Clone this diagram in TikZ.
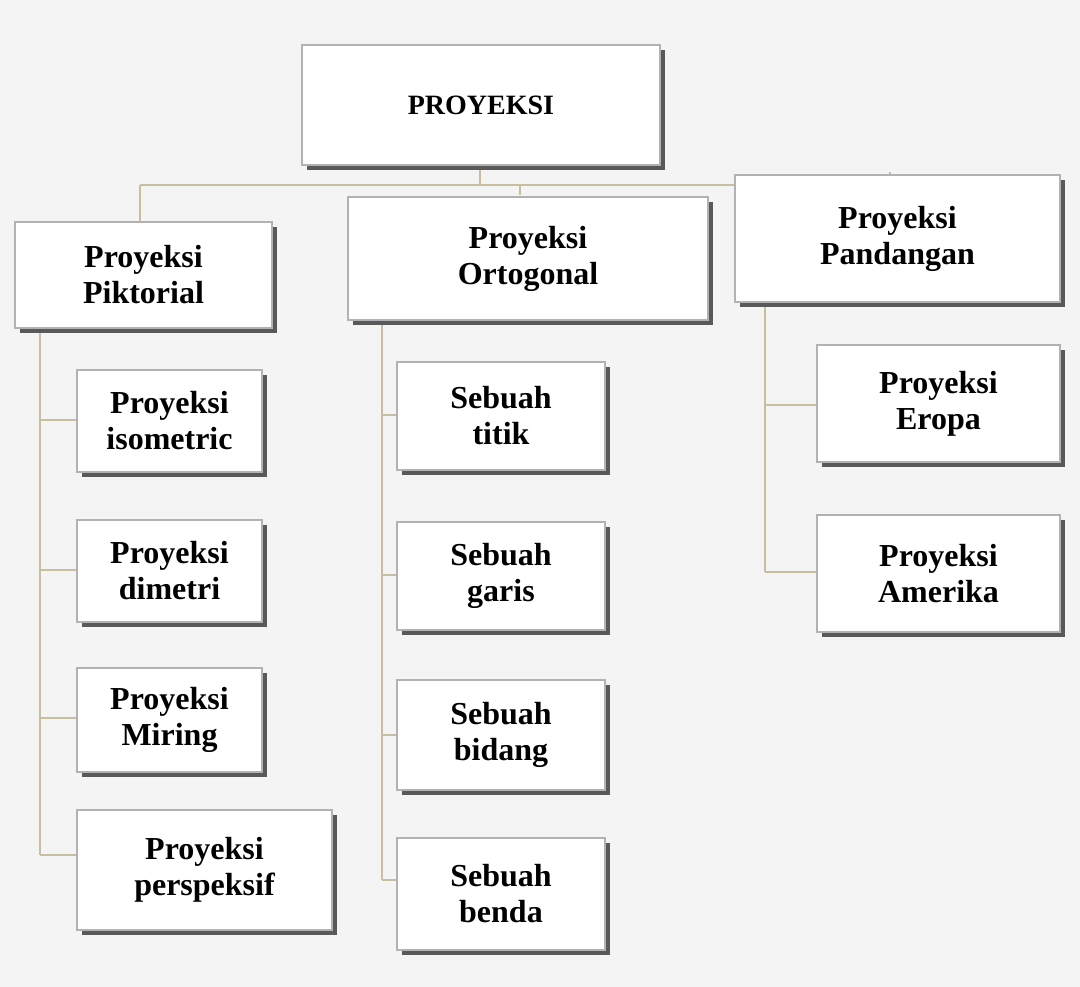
\documentclass[tikz,border=0pt]{standalone}
\usepackage{fontspec}
\setmainfont{Liberation Serif}
\usetikzlibrary{shadows}
\definecolor{bg}{HTML}{F4F4F4}
\definecolor{ln}{HTML}{C9BF9F}
\tikzset{
 box/.style={draw=gray!60, line width=2pt, fill=white, align=center, font=\bfseries\fontsize{32}{36}\selectfont,
   inner sep=0pt, drop shadow={shadow xshift=5pt, shadow yshift=-5pt, fill=black!65, opacity=1}},
 conn/.style={draw=ln, line width=1.5pt}
}
\begin{document}
\begin{tikzpicture}[x=1pt,y=-1pt]
\fill[bg] (0,0) rectangle (1080,987);
\useasboundingbox (0,0) rectangle (1080,987);
\newcommand\bx[6]{\node[box, minimum width={#4-#2}, minimum height={#5-#3}] (#1) at ({(#2+#4)/2},{(#3+#5)/2}) {#6};}
% connectors first
\coordinate (hl) at (140,185); \coordinate (hr) at (890,185);
\draw[conn] (480,165) -- (480,185);
\draw[conn] (hl) -- (hr);
\draw[conn] (hl) -- (140,222);
\draw[conn] (520,185) -- (520,195);
\draw[conn] (hr) -- (890,172);
\draw[conn] (40,328) -- (40,855);
\foreach \y in {420,570,718,855} \draw[conn] (40,\y) -- (77,\y);
\draw[conn] (382,320) -- (382,880);
\foreach \y in {415,575,735,880} \draw[conn] (382,\y) -- (397,\y);
\draw[conn] (765,302) -- (765,572);
\foreach \y in {405,572} \draw[conn] (765,\y) -- (817,\y);
\bx{root}{302}{45}{660}{165}{\fontsize{28}{30}\selectfont PROYEKSI}
\bx{pik}{15}{222}{272}{328}{Proyeksi\\Piktorial}
\bx{ort}{348}{197}{708}{320}{Proyeksi\\Ortogonal}
\bx{pan}{735}{175}{1060}{302}{Proyeksi\\Pandangan}
\bx{iso}{77}{370}{262}{472}{Proyeksi\\isometric}
\bx{dim}{77}{520}{262}{622}{Proyeksi\\dimetri}
\bx{mir}{77}{668}{262}{772}{Proyeksi\\Miring}
\bx{per}{77}{810}{332}{930}{Proyeksi\\perspeksif}
\bx{tit}{397}{362}{605}{470}{Sebuah\\titik}
\bx{gar}{397}{522}{605}{630}{Sebuah\\garis}
\bx{bid}{397}{680}{605}{790}{Sebuah\\bidang}
\bx{ben}{397}{838}{605}{950}{Sebuah\\benda}
\bx{ero}{817}{345}{1060}{462}{Proyeksi\\Eropa}
\bx{ame}{817}{515}{1060}{632}{Proyeksi\\Amerika}
\end{tikzpicture}
\end{document}
